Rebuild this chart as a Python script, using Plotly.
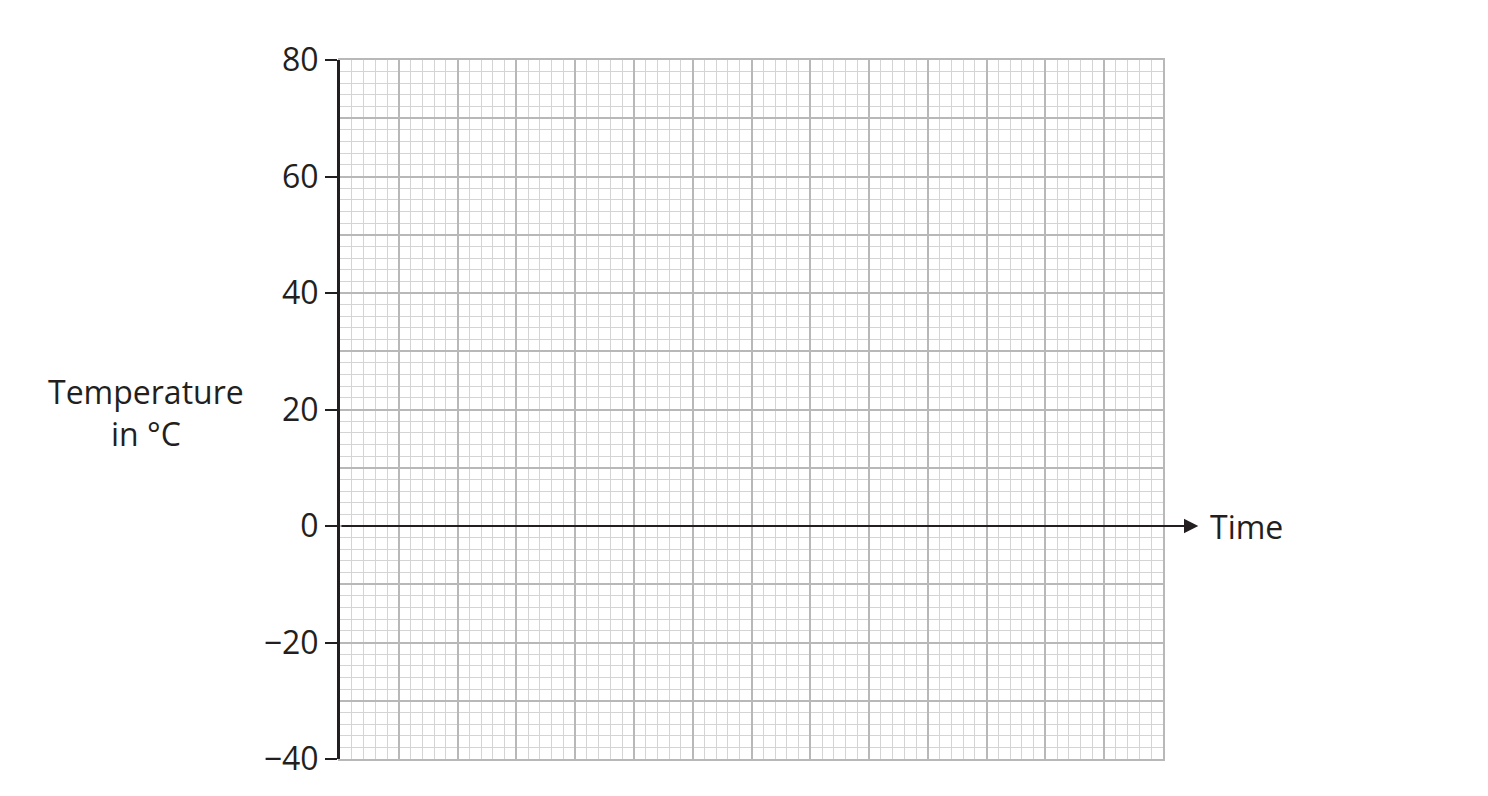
import plotly.graph_objects as go

# axis values
y_ticks = [-40, -20, 0, 20, 40, 60, 80]
y_range = [-40, 80]
x_range = [0, 140]
x_label = "Time"
y_label = "Temperature<br>in °C"

font = dict(family="Open Sans, Noto Sans, sans-serif", size=32, color="#231f20")
minor_grid = dict(dtick=2, showgrid=True, gridcolor="#d4d4d4", gridwidth=1)
major_grey = "#b8b8b8"

fig = go.Figure()
# empty traces so the axes are drawn
fig.add_trace(go.Scatter(x=x_range, y=y_range, mode="markers",
                         marker=dict(opacity=0), hoverinfo="skip", showlegend=False))
fig.add_trace(go.Scatter(x=x_range, y=y_range, yaxis="y2", mode="markers",
                         marker=dict(opacity=0), hoverinfo="skip", showlegend=False))

fig.update_layout(
    width=1488, height=796,
    margin=dict(l=332, r=333, t=52, b=45),
    paper_bgcolor="white", plot_bgcolor="white",
    font=font,
    showlegend=False,
    xaxis=dict(range=x_range, dtick=10, tick0=0, showgrid=True, gridcolor=major_grey,
               gridwidth=2, minor=minor_grid, showticklabels=False, ticks="",
               zeroline=False, showline=True, mirror=True, linecolor=major_grey,
               linewidth=2, fixedrange=True),
    yaxis=dict(range=y_range, dtick=10, tick0=0, showgrid=True, gridcolor=major_grey,
               gridwidth=2, minor=minor_grid, showticklabels=False, ticks="",
               zeroline=False, showline=True, mirror=True, linecolor=major_grey,
               linewidth=2, fixedrange=True),
    yaxis2=dict(range=y_range, overlaying="y", side="left", tickmode="array",
                tickvals=y_ticks, ticks="outside", ticklen=12, tickwidth=2,
                tickcolor="#231f20", showgrid=False, zeroline=False,
                showline=True, linewidth=3, linecolor="#231f20",
                tickfont=font, fixedrange=True),
)

# time axis with arrow at y = 0
fig.add_annotation(x=146, y=0, ax=0, ay=0, xref="x", yref="y", axref="x", ayref="y",
                   text="", showarrow=True, arrowhead=2, arrowsize=1.3,
                   arrowwidth=2.2, arrowcolor="#231f20")
fig.add_annotation(x=1.055, y=0, xref="paper", yref="y", text=x_label, showarrow=False,
                   xanchor="left", yanchor="middle", font=font)
fig.add_annotation(x=-0.236, y=19.5, xref="paper", yref="y", text=y_label,
                   showarrow=False, xanchor="center", yanchor="middle",
                   align="center", font=font)

fig.write_html("out.html")
